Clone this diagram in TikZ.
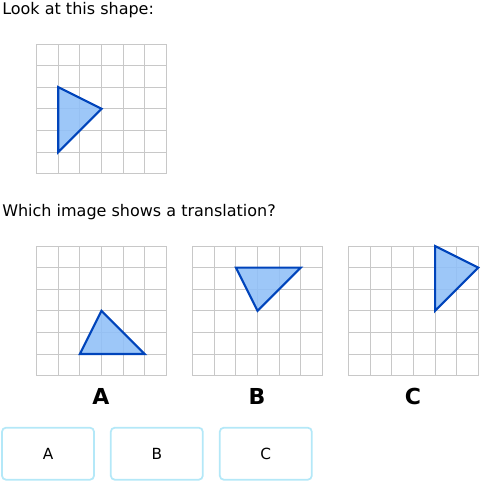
\documentclass[tikz,border=0pt]{standalone}
\usepackage{fontspec}
\setmainfont{DejaVu Sans}
\usetikzlibrary{calc}
\definecolor{gridc}{RGB}{200,200,200}
\definecolor{trifill}{RGB}{144,192,248}
\definecolor{triline}{RGB}{0,68,187}
\definecolor{btnline}{RGB}{180,232,248}
\begin{document}
\begin{tikzpicture}[x=0.75pt,y=-0.75pt,
  gridlines/.style={draw=gridc,line width=0.75pt},
  tri/.style={fill=trifill,fill opacity=0.88,draw=triline,draw opacity=1,line width=1.6pt,line join=miter},
  lbl/.style={font=\fontsize{16.5}{17}\selectfont\bfseries,inner sep=0pt},
  txt/.style={font=\fontsize{12}{14}\selectfont,anchor=base west,inner sep=0pt},
  btn/.style={draw=btnline,line width=1.3pt,rounded corners=3pt,minimum width=69pt,minimum height=39pt,inner sep=0pt,font=\fontsize{11.5}{13}\selectfont}]
\useasboundingbox (0,0) rectangle (480,482);
\fill[white] (0,0) rectangle (480,482);
\node[txt] (q1) at (2,14) {Look at this shape:};
\node[txt] (q2) at (2,216) {Which image shows a translation?};
% grids
\def\cs{21.6}
\foreach \gx/\gy in {36.7/44, 36.7/246, 192.7/246, 348.7/246}{
  \foreach \i in {0,...,6}{
    \draw[gridlines] (\gx+\i*\cs,\gy) -- (\gx+\i*\cs,\gy+6*\cs);
    \draw[gridlines] (\gx,\gy+\i*\cs) -- (\gx+6*\cs,\gy+\i*\cs);
  }
}
\coordinate (g0) at (36.7,44);
\coordinate (ga) at (36.7,246);
\coordinate (gb) at (192.7,246);
\coordinate (gc) at (348.7,246);
% triangles
\draw[tri] ($(g0)+(1*\cs,2*\cs)$) -- ($(g0)+(3*\cs,3*\cs)$) -- ($(g0)+(1*\cs,5*\cs)$) -- cycle;
\draw[tri] ($(ga)+(3*\cs,3*\cs)$) -- ($(ga)+(5*\cs,5*\cs)$) -- ($(ga)+(2*\cs,5*\cs)$) -- cycle;
\draw[tri] ($(gb)+(2*\cs,1*\cs)$) -- ($(gb)+(5*\cs,1*\cs)$) -- ($(gb)+(3*\cs,3*\cs)$) -- cycle;
\draw[tri] ($(gc)+(4*\cs,0*\cs)$) -- ($(gc)+(6*\cs,1*\cs)$) -- ($(gc)+(4*\cs,3*\cs)$) -- cycle;
% labels
\node[lbl] (la) at (101,396) {A};
\node[lbl] (lb) at (257,396) {B};
\node[lbl] (lc) at (413,396) {C};
% buttons
\node[btn] (ba) at (48,453.7) {A};
\node[btn] (bb) at (156.8,453.7) {B};
\node[btn] (bc) at (265.8,453.7) {C};
\end{tikzpicture}
\end{document}
